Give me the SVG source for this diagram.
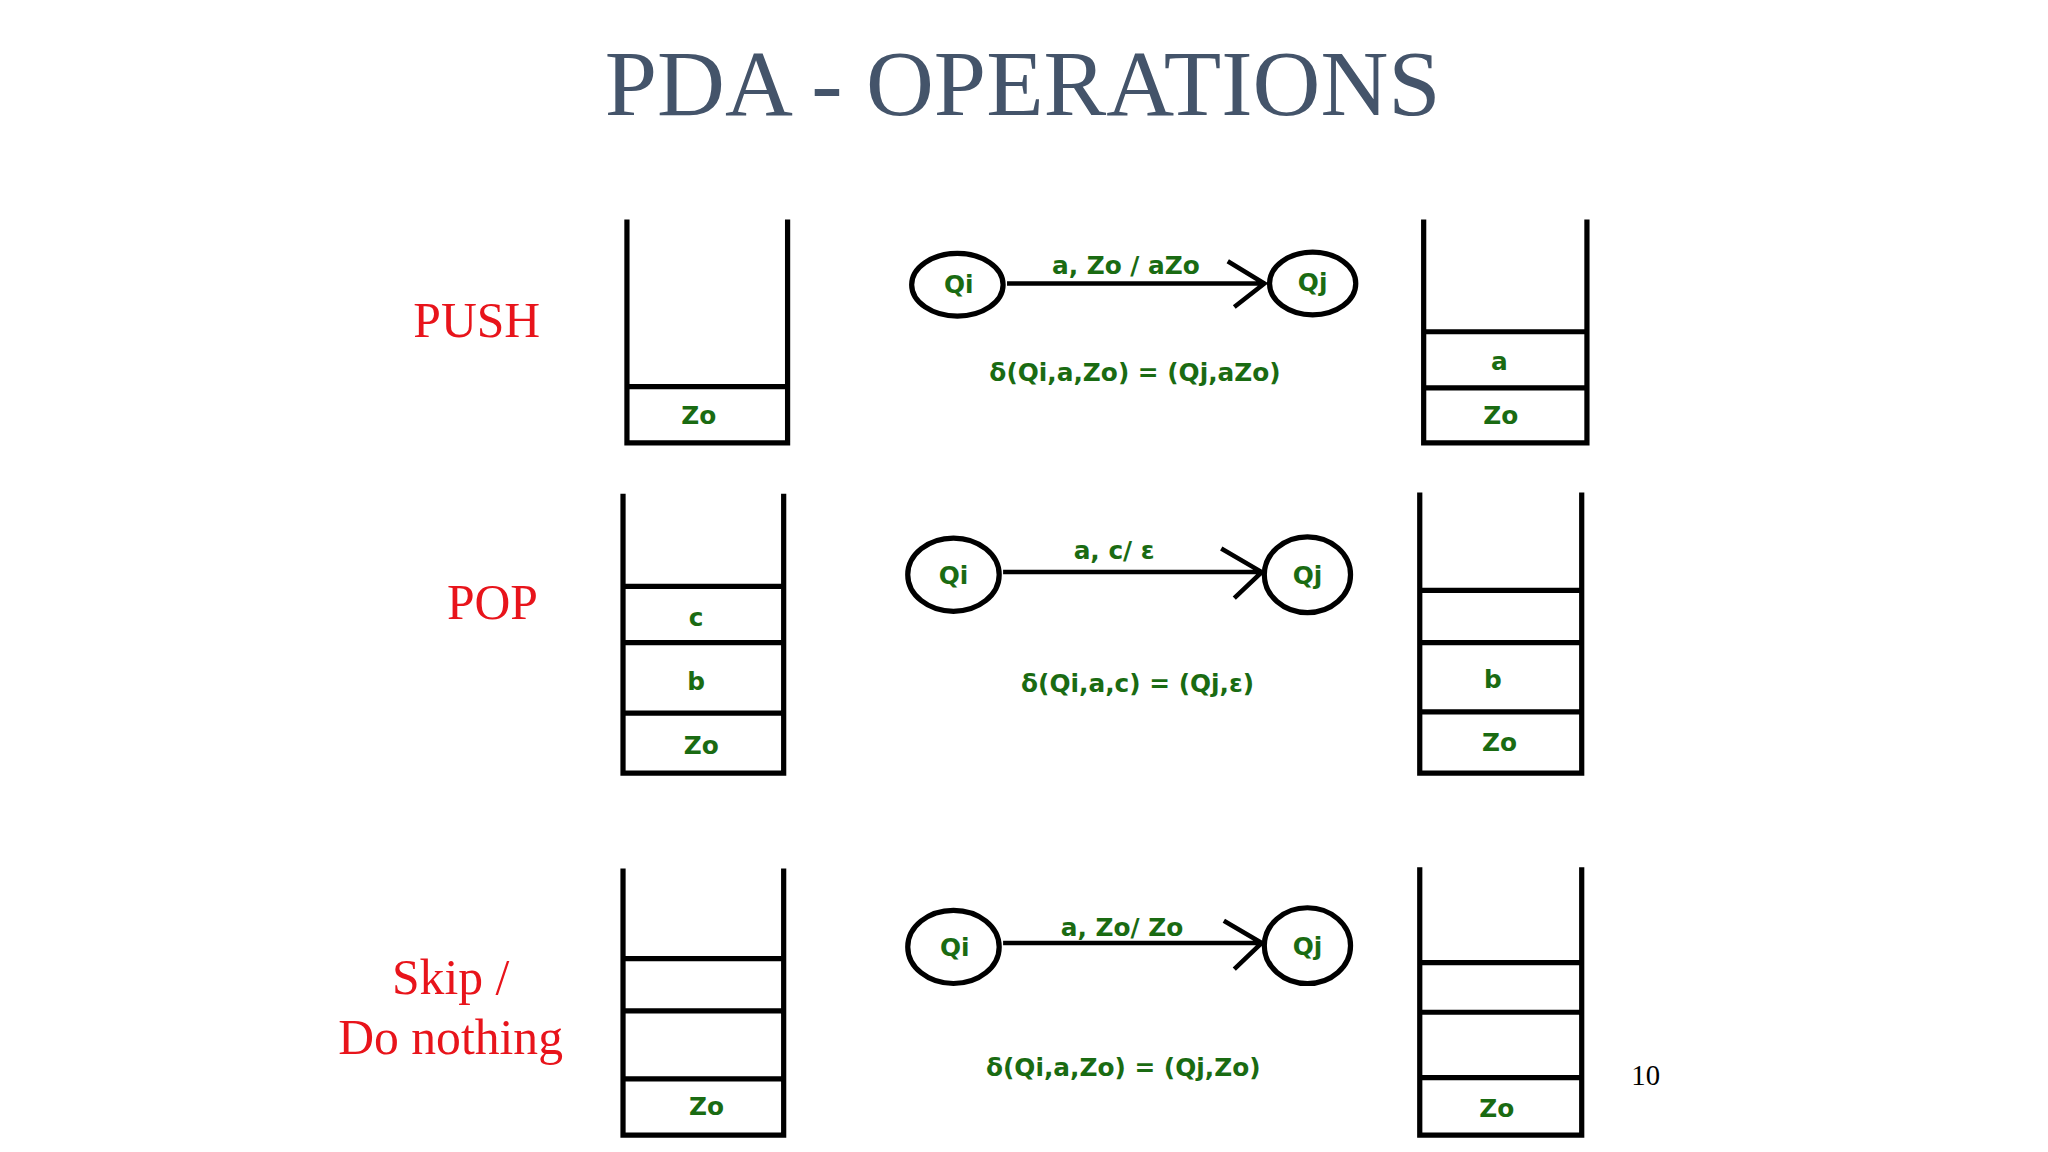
<svg xmlns="http://www.w3.org/2000/svg" width="2048" height="1152" viewBox="0 0 2048 1152">
<style>
.st{fill:none;stroke:#000;stroke-width:4}
.g{font-family:"DejaVu Sans",Verdana,sans-serif;font-weight:bold;fill:#1a6b12;text-anchor:middle;font-size:19px}
.r{font-family:"Liberation Serif","Times New Roman",serif;fill:#e8141b;text-anchor:middle;font-size:38px}
.c{fill:#fff;stroke:#000;stroke-width:4}
.a{fill:none;stroke:#000;stroke-width:3.5}
</style>
<rect width="2048" height="1152" fill="#fff"/>
<g transform="scale(1.30612)">
<text x="783" y="88" font-family="Liberation Serif,'Times New Roman',serif" font-size="72" fill="#44546a" text-anchor="middle">PDA - OPERATIONS</text>
<text class="r" x="365" y="258">PUSH</text>
<text class="r" x="377" y="474">POP</text>
<text class="r" x="345" y="761">Skip /</text>
<text class="r" x="345" y="807">Do nothing</text>
<text x="1260" y="831" font-family="Liberation Serif,serif" font-size="22" fill="#000" text-anchor="middle">10</text>

<g id="push-left"><path class="st" d="M480 168V339H603V168M480 296H603"/><text class="g" x="535" y="325">Zo</text></g>
<g id="push-right"><path class="st" d="M1090 168V339H1215V168M1090 254H1215M1090 297H1215"/><text class="g" x="1148" y="283">a</text><text class="g" x="1149" y="325">Zo</text></g>
<g id="pop-left"><path class="st" d="M477 378V592H600V378M477 449H600M477 492H600M477 546H600"/><text class="g" x="533" y="479">c</text><text class="g" x="533" y="528">b</text><text class="g" x="537" y="577">Zo</text></g>
<g id="pop-right"><path class="st" d="M1087 377V592H1211V377M1087 452H1211M1087 492H1211M1087 545H1211"/><text class="g" x="1143" y="527">b</text><text class="g" x="1148" y="575">Zo</text></g>
<g id="skip-left"><path class="st" d="M477 665V869H600V665M477 734H600M477 774H600M477 826H600"/><text class="g" x="541" y="854">Zo</text></g>
<g id="skip-right"><path class="st" d="M1087 664V869H1211V664M1087 737H1211M1087 775H1211M1087 825H1211"/><text class="g" x="1146" y="855">Zo</text></g>

<g id="connectors">
<path class="a" d="M771 217H968M940 200L968 217L945 235"/>
<path class="a" d="M768 438H966M935 420L966 438L945 458"/>
<path class="a" d="M768 722H966M937 705L966 722L945 742"/>
</g>

<g id="push-qi"><ellipse class="c" cx="733" cy="218" rx="35" ry="24"/><text class="g" x="734" y="224">Qi</text></g>
<g id="push-qj"><ellipse class="c" cx="1005" cy="217" rx="33" ry="24"/><text class="g" x="1005" y="223">Qj</text></g>
<text class="g" x="862" y="210">a, Zo / aZo</text>
<text class="g" x="869" y="292">δ(Qi,a,Zo) = (Qj,aZo)</text>

<g id="pop-qi"><ellipse class="c" cx="730" cy="440" rx="35" ry="28"/><text class="g" x="730" y="447">Qi</text></g>
<g id="pop-qj"><ellipse class="c" cx="1001" cy="440" rx="33" ry="29"/><text class="g" x="1001" y="447">Qj</text></g>
<text class="g" x="853" y="428">a, c/ ε</text>
<text class="g" x="871" y="530">δ(Qi,a,c) = (Qj,ε)</text>

<g id="skip-qi"><ellipse class="c" cx="730" cy="725" rx="35" ry="28"/><text class="g" x="731" y="732">Qi</text></g>
<g id="skip-qj"><ellipse class="c" cx="1001" cy="724" rx="33" ry="29"/><text class="g" x="1001" y="731">Qj</text></g>
<text class="g" x="859" y="717">a, Zo/ Zo</text>
<text class="g" x="860" y="824">δ(Qi,a,Zo) = (Qj,Zo)</text>
</g>
</svg>
